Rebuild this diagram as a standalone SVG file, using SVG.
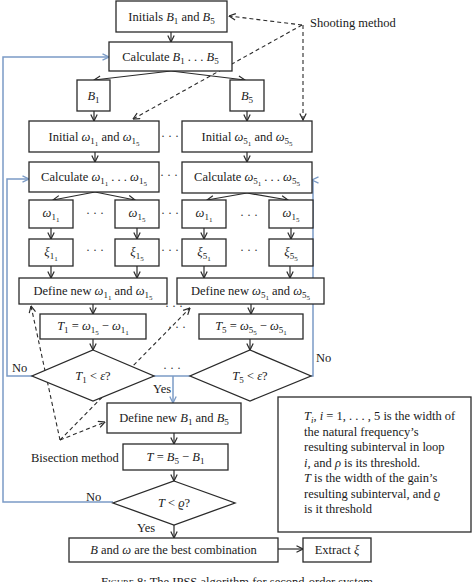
<svg xmlns="http://www.w3.org/2000/svg" width="474" height="582" viewBox="0 0 474 582">
<style>
.b{fill:#fff;stroke:#2a2a2a;stroke-width:1.3}
.t{font-family:"Liberation Serif","DejaVu Serif",serif;font-size:12.5px;fill:#1a1a1a;text-anchor:middle}
.l{font-family:"Liberation Serif","DejaVu Serif",serif;font-size:12.5px;fill:#1a1a1a}
.i{font-style:italic}
.c{stroke:#2a2a2a;stroke-width:1.2;fill:none}
.d{stroke:#2a2a2a;stroke-width:1.1;fill:none;stroke-dasharray:4,3}
.u{stroke:#7b9bc6;stroke-width:1.5;fill:none}
.dots{font-family:"Liberation Serif",serif;font-size:12px;fill:#333;text-anchor:middle}
</style>
<defs>
<marker id="a" viewBox="0 0 8 8" refX="7.5" refY="4" markerWidth="8" markerHeight="8" markerUnits="userSpaceOnUse" orient="auto"><path d="M1,0.8 L7.5,4 L1,7.2" fill="none" stroke="#2a2a2a" stroke-width="1.2"/></marker>
<marker id="ab" viewBox="0 0 8 8" refX="7.5" refY="4" markerWidth="8" markerHeight="8" markerUnits="userSpaceOnUse" orient="auto"><path d="M1,0.8 L7.5,4 L1,7.2" fill="none" stroke="#7b9bc6" stroke-width="1.3"/></marker>
</defs>

<g id="connectors">
<line class="c" x1="171" y1="32" x2="171" y2="42" marker-end="url(#a)"/>
<line class="c" x1="171" y1="71" x2="94" y2="80" marker-end="url(#a)"/>
<line class="c" x1="171" y1="71" x2="245" y2="80" marker-end="url(#a)"/>
<line class="c" x1="94" y1="111" x2="94" y2="121" marker-end="url(#a)"/>
<line class="c" x1="247" y1="111" x2="247" y2="121" marker-end="url(#a)"/>
<line class="c" x1="95" y1="152" x2="95" y2="162" marker-end="url(#a)"/>
<line class="c" x1="247" y1="152" x2="247" y2="162" marker-end="url(#a)"/>
<line class="c" x1="95" y1="192" x2="53" y2="200" marker-end="url(#a)"/>
<line class="c" x1="95" y1="192" x2="135" y2="200" marker-end="url(#a)"/>
<line class="c" x1="247" y1="193" x2="207" y2="200" marker-end="url(#a)"/>
<line class="c" x1="247" y1="193" x2="288" y2="200" marker-end="url(#a)"/>
<line class="c" x1="51" y1="228" x2="51" y2="239" marker-end="url(#a)"/>
<line class="c" x1="137" y1="228" x2="137" y2="239" marker-end="url(#a)"/>
<line class="c" x1="204" y1="228" x2="204" y2="239" marker-end="url(#a)"/>
<line class="c" x1="291" y1="228" x2="291" y2="239" marker-end="url(#a)"/>
<line class="c" x1="51" y1="266" x2="51" y2="278" marker-end="url(#a)"/>
<line class="c" x1="137" y1="266" x2="137" y2="278" marker-end="url(#a)"/>
<line class="c" x1="204" y1="266" x2="204" y2="278" marker-end="url(#a)"/>
<line class="c" x1="290" y1="266" x2="290" y2="278" marker-end="url(#a)"/>
<line class="c" x1="93" y1="304" x2="93" y2="314" marker-end="url(#a)"/>
<line class="c" x1="251" y1="304" x2="251" y2="314" marker-end="url(#a)"/>
<line class="c" x1="93" y1="339" x2="93" y2="350" marker-end="url(#a)"/>
<line class="c" x1="250" y1="339" x2="250" y2="350" marker-end="url(#a)"/>
<line class="c" x1="174" y1="433" x2="174" y2="444" marker-end="url(#a)"/>
<line class="c" x1="174" y1="470" x2="174" y2="481" marker-end="url(#a)"/>
<line class="c" x1="174" y1="525" x2="174" y2="538" marker-end="url(#a)"/>
<line class="c" x1="278" y1="549" x2="303" y2="549" marker-end="url(#a)"/>
<!-- blue feedback -->
<path class="u" d="M154,376 H190"/>
<line class="u" x1="173" y1="376" x2="173" y2="403" marker-end="url(#ab)"/>
<path class="u" d="M32,376 H7 V179 H29" marker-end="url(#ab)"/>
<path class="u" d="M311,376 L313,376 V180 H312" marker-end="url(#ab)"/>
<path class="u" d="M113,502 H3 V57 H109" marker-end="url(#ab)"/>
<!-- dashed shooting method -->
<line class="d" x1="302" y1="25" x2="229" y2="16" marker-end="url(#a)"/>
<line class="d" x1="302" y1="25" x2="133" y2="119" marker-end="url(#a)"/>
<line class="d" x1="303" y1="25" x2="303" y2="120" marker-end="url(#a)"/>
<!-- dashed bisection -->
<line class="d" x1="60" y1="440" x2="31" y2="306" marker-end="url(#a)"/>
<line class="d" x1="60" y1="440" x2="190" y2="308" marker-end="url(#a)"/>
<line class="d" x1="60" y1="440" x2="105" y2="422" marker-end="url(#a)"/>
</g>

<g id="n1"><rect class="b" x="116" y="1" width="111" height="31"/><text class="t" x="171.5" y="21">Initials <tspan class="i">B</tspan><tspan font-size="9" dy="3">1</tspan><tspan dy="-3"> and </tspan><tspan class="i">B</tspan><tspan font-size="9" dy="3">5</tspan></text></g>
<g id="n2"><rect class="b" x="109" y="42" width="123" height="29"/><text class="t" x="170.5" y="61">Calculate <tspan class="i">B</tspan><tspan font-size="9" dy="3">1</tspan><tspan dy="-3"> . . . </tspan><tspan class="i">B</tspan><tspan font-size="9" dy="3">5</tspan></text></g>
<g id="nB1"><rect class="b" x="77" y="80" width="33" height="31"/><text class="t" x="93.5" y="100"><tspan class="i">B</tspan><tspan font-size="9" dy="3">1</tspan></text></g>
<g id="nB5"><rect class="b" x="230" y="80" width="34" height="31"/><text class="t" x="247" y="100"><tspan class="i">B</tspan><tspan font-size="9" dy="3">5</tspan></text></g>

<g id="ni1"><rect class="b" x="29" y="121" width="130" height="31"/><text class="t" x="94" y="141">Initial <tspan class="i">ω</tspan><tspan font-size="9" dy="3">1</tspan><tspan font-size="7" dy="2">1</tspan><tspan dy="-5"> and </tspan><tspan class="i">ω</tspan><tspan font-size="9" dy="3">1</tspan><tspan font-size="7" dy="2">5</tspan></text></g>
<g id="ni5"><rect class="b" x="182" y="121" width="130" height="31"/><text class="t" x="247" y="141">Initial <tspan class="i">ω</tspan><tspan font-size="9" dy="3">5</tspan><tspan font-size="7" dy="2">1</tspan><tspan dy="-5"> and </tspan><tspan class="i">ω</tspan><tspan font-size="9" dy="3">5</tspan><tspan font-size="7" dy="2">5</tspan></text></g>

<g id="nc1"><rect class="b" x="29" y="162" width="130" height="30"/><text class="t" x="94" y="181">Calculate <tspan class="i">ω</tspan><tspan font-size="9" dy="3">1</tspan><tspan font-size="7" dy="2">1</tspan><tspan dy="-5"> . . . </tspan><tspan class="i">ω</tspan><tspan font-size="9" dy="3">1</tspan><tspan font-size="7" dy="2">5</tspan></text></g>
<g id="nc5"><rect class="b" x="182" y="162" width="130" height="31"/><text class="t" x="247" y="181">Calculate <tspan class="i">ω</tspan><tspan font-size="9" dy="3">5</tspan><tspan font-size="7" dy="2">1</tspan><tspan dy="-5"> . . . </tspan><tspan class="i">ω</tspan><tspan font-size="9" dy="3">5</tspan><tspan font-size="7" dy="2">5</tspan></text></g>

<g id="nw11"><rect class="b" x="29" y="200" width="44" height="28"/><text class="t" x="51" y="217"><tspan class="i">ω</tspan><tspan font-size="9" dy="3">1</tspan><tspan font-size="7" dy="2">1</tspan></text></g>
<g id="nw15"><rect class="b" x="115" y="200" width="44" height="28"/><text class="t" x="137" y="217"><tspan class="i">ω</tspan><tspan font-size="9" dy="3">1</tspan><tspan font-size="7" dy="2">5</tspan></text></g>
<g id="nw51"><rect class="b" x="182" y="200" width="44" height="28"/><text class="t" x="204" y="217"><tspan class="i">ω</tspan><tspan font-size="9" dy="3">1</tspan><tspan font-size="7" dy="2">1</tspan></text></g>
<g id="nw55"><rect class="b" x="269" y="200" width="44" height="28"/><text class="t" x="291" y="217"><tspan class="i">ω</tspan><tspan font-size="9" dy="3">1</tspan><tspan font-size="7" dy="2">5</tspan></text></g>

<g id="nx11"><rect class="b" x="29" y="239" width="44" height="27"/><text class="t" x="51" y="256"><tspan class="i">ξ</tspan><tspan font-size="9" dy="3">1</tspan><tspan font-size="7" dy="2">1</tspan></text></g>
<g id="nx15"><rect class="b" x="115" y="239" width="44" height="27"/><text class="t" x="137" y="256"><tspan class="i">ξ</tspan><tspan font-size="9" dy="3">1</tspan><tspan font-size="7" dy="2">5</tspan></text></g>
<g id="nx51"><rect class="b" x="182" y="239" width="44" height="27"/><text class="t" x="204" y="256"><tspan class="i">ξ</tspan><tspan font-size="9" dy="3">5</tspan><tspan font-size="7" dy="2">1</tspan></text></g>
<g id="nx55"><rect class="b" x="269" y="239" width="44" height="27"/><text class="t" x="291" y="256"><tspan class="i">ξ</tspan><tspan font-size="9" dy="3">5</tspan><tspan font-size="7" dy="2">5</tspan></text></g>

<g id="nd1"><rect class="b" x="19" y="278" width="148" height="26"/><text class="t" x="93" y="295">Define new <tspan class="i">ω</tspan><tspan font-size="9" dy="3">1</tspan><tspan font-size="7" dy="2">1</tspan><tspan dy="-5"> and </tspan><tspan class="i">ω</tspan><tspan font-size="9" dy="3">1</tspan><tspan font-size="7" dy="2">5</tspan></text></g>
<g id="nd5"><rect class="b" x="177" y="278" width="147" height="26"/><text class="t" x="250.5" y="295">Define new <tspan class="i">ω</tspan><tspan font-size="9" dy="3">5</tspan><tspan font-size="7" dy="2">1</tspan><tspan dy="-5"> and </tspan><tspan class="i">ω</tspan><tspan font-size="9" dy="3">5</tspan><tspan font-size="7" dy="2">5</tspan></text></g>

<g id="nt1"><rect class="b" x="40" y="314" width="106" height="25"/><text class="t" x="93" y="330"><tspan class="i">T</tspan><tspan font-size="9" dy="3">1</tspan><tspan dy="-3"> = </tspan><tspan class="i">ω</tspan><tspan font-size="9" dy="3">1</tspan><tspan font-size="7" dy="2">5</tspan><tspan dy="-5"> − </tspan><tspan class="i">ω</tspan><tspan font-size="9" dy="3">1</tspan><tspan font-size="7" dy="2">1</tspan></text></g>
<g id="nt5"><rect class="b" x="199" y="314" width="104" height="25"/><text class="t" x="251" y="330"><tspan class="i">T</tspan><tspan font-size="9" dy="3">5</tspan><tspan dy="-3"> = </tspan><tspan class="i">ω</tspan><tspan font-size="9" dy="3">5</tspan><tspan font-size="7" dy="2">5</tspan><tspan dy="-5"> − </tspan><tspan class="i">ω</tspan><tspan font-size="9" dy="3">5</tspan><tspan font-size="7" dy="2">1</tspan></text></g>

<g id="nq1"><polygon class="b" points="93,350 154,376 93,401 32,376"/><text class="t" x="93" y="380"><tspan class="i">T</tspan><tspan font-size="9" dy="3">1</tspan><tspan dy="-3"> &lt; </tspan><tspan class="i">ε</tspan>?</text></g>
<g id="nq5"><polygon class="b" points="250,350 311,376 250,401 190,376"/><text class="t" x="250" y="380"><tspan class="i">T</tspan><tspan font-size="9" dy="3">5</tspan><tspan dy="-3"> &lt; </tspan><tspan class="i">ε</tspan>?</text></g>

<g id="nb"><rect class="b" x="107" y="403" width="134" height="30"/><text class="t" x="174" y="422">Define new <tspan class="i">B</tspan><tspan font-size="9" dy="3">1</tspan><tspan dy="-3"> and </tspan><tspan class="i">B</tspan><tspan font-size="9" dy="3">5</tspan></text></g>
<g id="nT"><rect class="b" x="123" y="444" width="105" height="26"/><text class="t" x="175.5" y="461"><tspan class="i">T</tspan> = <tspan class="i">B</tspan><tspan font-size="9" dy="3">5</tspan><tspan dy="-3"> − </tspan><tspan class="i">B</tspan><tspan font-size="9" dy="3">1</tspan></text></g>
<g id="nq"><polygon class="b" points="174,481 235,503 174,525 113,503"/><text class="t" x="174" y="507"><tspan class="i">T</tspan> &lt; <tspan class="i">ϱ</tspan>?</text></g>
<g id="nbest"><rect class="b" x="69" y="538" width="209" height="24"/><text class="t" x="173.5" y="554"><tspan class="i">B</tspan> and <tspan class="i">ω</tspan> are the best combination</text></g>
<g id="nex"><rect class="b" x="303" y="538" width="68" height="24"/><text class="t" x="337" y="554">Extract <tspan class="i">ξ</tspan></text></g>

<g id="note"><rect class="b" x="278" y="397" width="193" height="135"/>
<text class="l" x="304" y="420"><tspan class="i">T</tspan><tspan class="i" font-size="9" dy="3">i</tspan><tspan dy="-3">, </tspan><tspan class="i">i</tspan> = 1, . . . , 5 is the width of</text>
<text class="l" x="304" y="436">the natural frequency’s</text>
<text class="l" x="304" y="451">resulting subinterval in loop</text>
<text class="l" x="304" y="467"><tspan class="i">i</tspan>, and <tspan class="i">ρ</tspan> is its threshold.</text>
<text class="l" x="304" y="482"><tspan class="i">T</tspan> is the width of the gain’s</text>
<text class="l" x="304" y="498">resulting subinterval, and <tspan class="i">ϱ</tspan></text>
<text class="l" x="304" y="513">is it threshold</text>
</g>

<g id="labels">
<text class="l" x="310" y="27">Shooting method</text>
<text class="l" x="31" y="462">Bisection method</text>
<text class="l" x="12" y="372">No</text>
<text class="l" x="316" y="362">No</text>
<text class="l" x="153" y="393">Yes</text>
<text class="l" x="86" y="501">No</text>
<text class="l" x="137" y="532">Yes</text>
<text class="dots" x="170" y="140">· · ·</text>
<text class="dots" x="169" y="179">· · ·</text>
<text class="dots" x="95" y="217">· · ·</text>
<text class="dots" x="170" y="217">· · ·</text>
<text class="dots" x="249" y="219">· · ·</text>
<text class="dots" x="95" y="254">· · ·</text>
<text class="dots" x="170" y="254">· · ·</text>
<text class="dots" x="249" y="254">· · ·</text>
<text class="dots" x="174" y="310">· · ·</text>
<text class="dots" x="177" y="331">· · ·</text>
<text class="dots" x="172" y="372">· · ·</text>
<text class="l" x="237" y="586" font-size="11" text-anchor="middle">F<tspan font-size="8.5">IGURE</tspan> 8: The IPSS algorithm for second-order system</text>
</g>
</svg>
